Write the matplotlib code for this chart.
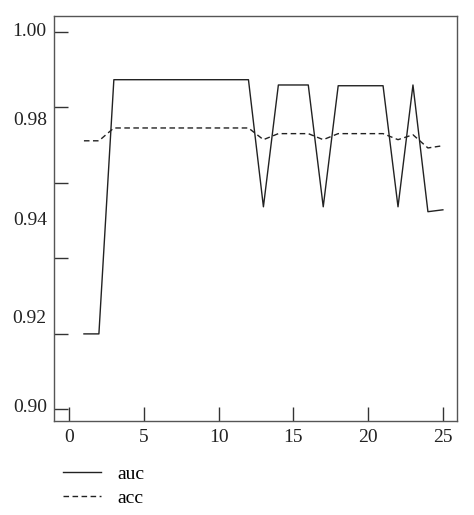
import numpy as np
import matplotlib
matplotlib.use("Agg")
import matplotlib.pyplot as plt
from matplotlib.lines import Line2D

plt.rcParams['font.family'] = ['Liberation Serif', 'DejaVu Serif']

# epoch index
epochs = list(range(1, 26))
auc = [0.9199, 0.9199] + [0.9873] * 10 + [0.9536, 0.9859, 0.9859, 0.9859, 0.9536,
       0.9857, 0.9857, 0.9857, 0.9857, 0.9536, 0.9859, 0.9523, 0.9528]
acc = [0.9711, 0.9711] + [0.9745] * 10 + [0.9714, 0.9730, 0.9730, 0.9730, 0.9714,
       0.9730, 0.9730, 0.9730, 0.9730, 0.9714, 0.9727, 0.9692, 0.9698]

# the reference prints its y labels slightly off the tick marks
y_ticks = [0.90, 0.92, 0.94, 0.96, 0.98, 1.00]
y_label_text = ["1.00", "0.98", "0.94", "0.92", "0.90"]
y_label_pos = [1.0, 0.9764, 0.9499, 0.9239, 0.9003]
x_ticks = [0, 5, 10, 15, 20, 25]

fig = plt.figure(figsize=(4.74, 5.15), dpi=100)
ax = fig.add_axes([0.114, 0.1825, 0.85, 0.7865])

ax.plot(epochs, auc, color="#222222", lw=1.0, ls="-")
ax.plot(epochs, acc, color="#222222", lw=1.0, ls=(0, (4, 2.5)))

ax.set_xlim(-1.0, 25.94)
ax.set_ylim(0.8968, 1.0042)
ax.set_xticks(x_ticks)
ax.set_yticks(y_ticks)
ax.set_yticklabels([])
ax.tick_params(direction="in", length=10, width=1, color="#333333",
               labelsize=14, labelcolor="#222222")
ax.tick_params(axis="x", pad=6)
for s in ax.spines.values():
    s.set_color("#555555")
    s.set_linewidth(1.0)

for txt, y in zip(y_label_text, y_label_pos):
    ax.text(-0.018, y, txt, transform=ax.get_yaxis_transform(), ha="right",
            va="center", fontsize=14, color="#222222")

handles = [Line2D([], [], color="#222222", lw=1.0, ls="-"),
           Line2D([], [], color="#222222", lw=1.0, ls=(0, (4, 2.5)))]
fig.legend(handles, ["auc", "acc"], loc="upper left", bbox_to_anchor=(0.095, 0.13),
           frameon=False, fontsize=14, handlelength=2.0, labelspacing=0.3)

fig.savefig("out.png", dpi=100)
